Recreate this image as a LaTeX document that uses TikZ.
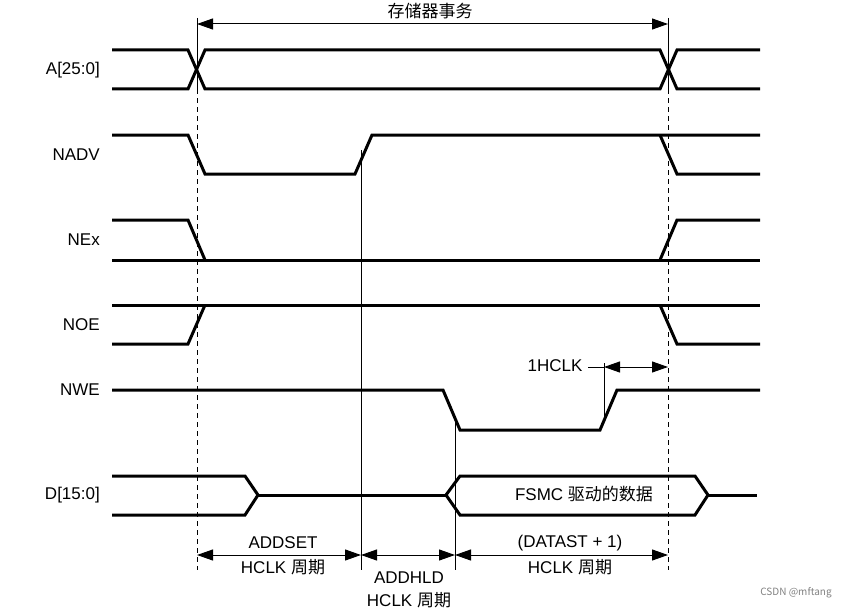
\documentclass[tikz,border=0pt]{standalone}
\usepackage{fontspec}
\setmainfont{Liberation Sans}
\newfontfamily\cjk{Noto Sans CJK SC}
\usetikzlibrary{arrows.meta}
\begin{document}
\begin{tikzpicture}[x=1pt,y=-1pt,
  sig/.style={line width=3pt,line join=miter},
  thin/.style={line width=1pt},
  dashv/.style={line width=1pt,dash pattern=on 5pt off 4pt},
  dim/.style={line width=1pt,{Triangle[length=16pt,width=11pt]}-{Triangle[length=16pt,width=11pt]}},
  lbl/.style={font=\fontsize{17}{19}\selectfont,anchor=east,inner sep=0},
  txt/.style={font=\fontsize{17}{19}\selectfont,inner sep=0}]
\useasboundingbox (0,0) rectangle (849,610);
% labels
\node[lbl] (la) at (100,70) {A[25:0]};
\node[lbl] (ln) at (100,155) {NADV};
\node[lbl] (le) at (100,240) {NEx};
\node[lbl] (lo) at (100,325) {NOE};
\node[lbl] (lw) at (100,390) {NWE};
\node[lbl] (ld) at (100,495) {D[15:0]};
% A
\draw[sig] (112,50) -- (188,50) -- (205,89) -- (660,89) -- (677,50) -- (760,50);
\draw[sig] (112,89) -- (188,89) -- (205,50) -- (660,50) -- (677,89) -- (760,89);
% NADV
\draw[sig] (112,135) -- (188,135) -- (205,174) -- (355,174) -- (372,135) -- (760,135);
\draw[sig] (660,135) -- (677,174) -- (760,174);
% NEx
\draw[sig] (112,260) -- (760,260);
\draw[sig] (112,220) -- (188,220) -- (205,260);
\draw[sig] (660,260) -- (677,220) -- (760,220);
% NOE
\draw[sig] (112,305) -- (760,305);
\draw[sig] (112,344) -- (188,344) -- (205,305);
\draw[sig] (660,305) -- (677,344) -- (760,344);
% NWE
\draw[sig] (112,390) -- (443,390) -- (460,430) -- (600,430) -- (617,390) -- (760,390);
% D
\draw[sig] (112,476) -- (245,476) -- (258,495) -- (245,515) -- (112,515);
\draw[sig] (258,495) -- (446,495);
\draw[sig] (446,495) -- (460,476) -- (695,476) -- (708,495) -- (695,515) -- (460,515) -- cycle;
\draw[sig] (708,495) -- (757,495);
% verticals
\draw[dashv] (197,89) -- (197,570);
\draw[dashv] (668,89) -- (668,570);
\draw[thin] (197,18) -- (197,89);
\draw[thin] (668,18) -- (668,89);
\draw[thin] (361,150) -- (361,570);
\draw[thin] (455,420) -- (455,570);
\draw[thin] (604,363) -- (604,420);
% dimensions
\coordinate (t1) at (197,24); \coordinate (t2) at (668,24);
\draw[dim] (t1) -- (t2);
\node[txt,font=\cjk\fontsize{17}{19}\selectfont] (tt) at (430,11) {存储器事务};
\coordinate (h0) at (588,367); \coordinate (h1) at (604,367); \coordinate (h2) at (668,367);
\draw[thin] (h0) -- (h1);
\draw[dim] (h1) -- (h2);
\node[txt] (th) at (555,366) {1HCLK};
\coordinate (b0) at (197,555); \coordinate (b1) at (361,555);
\coordinate (b2) at (455,555); \coordinate (b3) at (668,555);
\draw[dim] (b0) -- (b1);
\draw[dim] (b1) -- (b2);
\draw[dim] (b2) -- (b3);
\node[txt] (s1) at (283,543) {ADDSET};
\node[txt] (s2) at (283,567) {HCLK {\cjk 周期}};
\node[txt] (s3) at (409,578) {ADDHLD};
\node[txt] (s4) at (409,600) {HCLK {\cjk 周期}};
\node[txt] (s5) at (570,543) {(DATAST + 1)};
\node[txt] (s6) at (570,567) {HCLK {\cjk 周期}};
\node[txt] (fd) at (584,494) {FSMC {\cjk 驱动的数据}};
\node[font=\cjk\fontsize{10}{12}\selectfont,text=gray,inner sep=0] (wm) at (796,593) {CSDN @mftang};
\end{tikzpicture}
\end{document}
